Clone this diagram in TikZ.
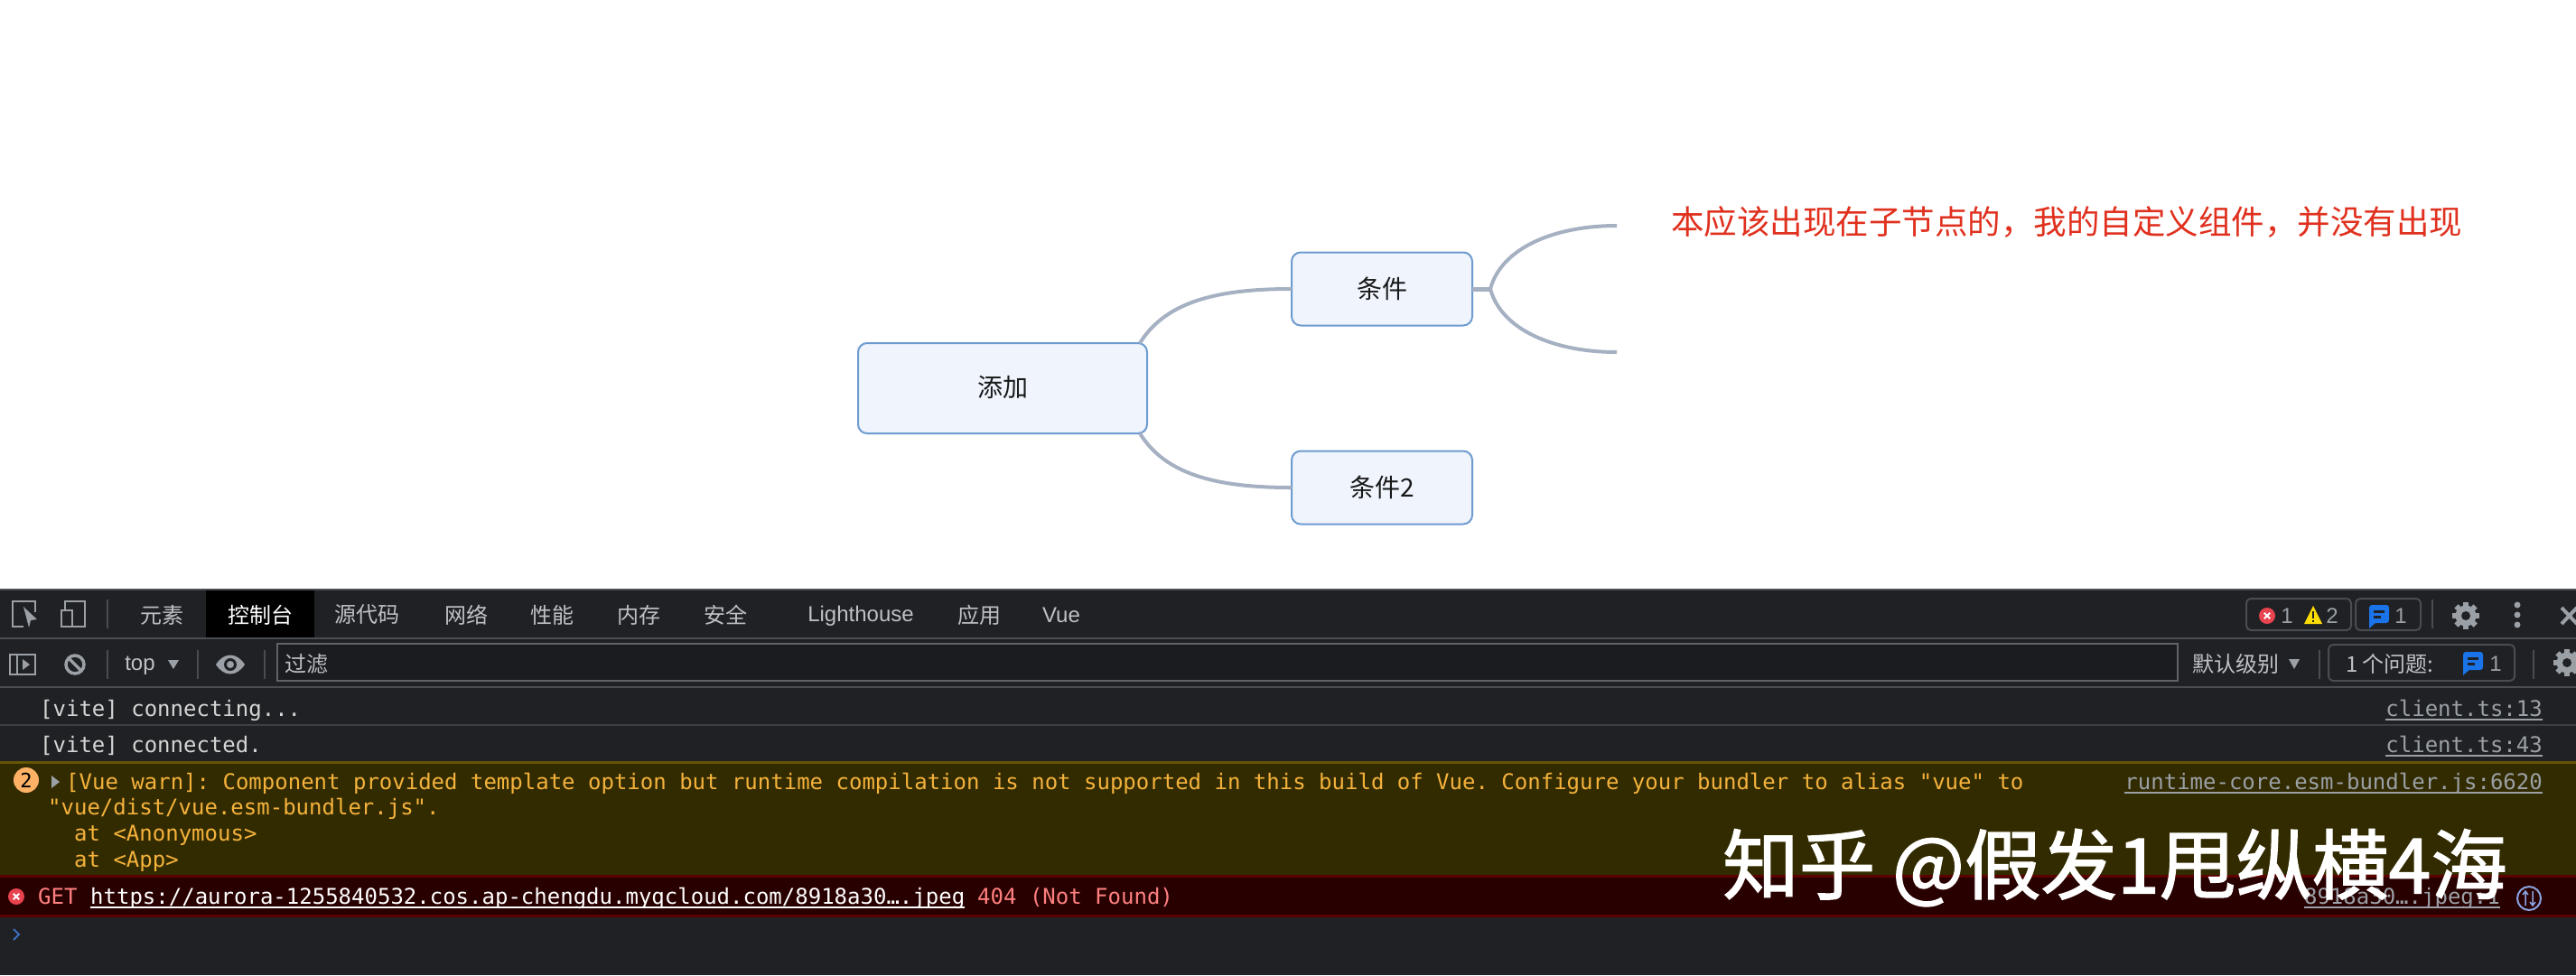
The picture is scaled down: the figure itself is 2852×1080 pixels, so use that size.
\documentclass[tikz,border=0pt]{standalone}
\usepackage{fontspec}
\usetikzlibrary{calc}
\setmainfont{Liberation Sans}
\newfontfamily\cjk{Noto Sans CJK SC}
\newfontfamily\cjkb[FakeBold=1.6]{Noto Sans CJK SC}
\newfontfamily\mono{DejaVu Sans Mono}
\frenchspacing
\definecolor{panelbg}{HTML}{202124}
\definecolor{seam}{HTML}{494C50}
\definecolor{boxline}{HTML}{5F6368}
\definecolor{boxfill}{HTML}{1B1C1F}
\definecolor{tabgrey}{HTML}{BDC1C6}
\definecolor{icongrey}{HTML}{9AA0A6}
\definecolor{logtext}{HTML}{D5D5D5}
\definecolor{warnbg}{HTML}{332B00}
\definecolor{warnline}{HTML}{665500}
\definecolor{warntext}{HTML}{F4B23C}
\definecolor{errbg}{HTML}{290000}
\definecolor{errline}{HTML}{5C0000}
\definecolor{errtext}{HTML}{FF8080}
\definecolor{errdot}{HTML}{E8434E}
\definecolor{roundblue}{HTML}{8AA4E0}
\definecolor{promptblue}{HTML}{3B6FC0}
\definecolor{nodefill}{HTML}{EFF4FD}
\definecolor{nodeline}{HTML}{6E9BD0}
\definecolor{branch}{HTML}{A5B1C2}
\definecolor{noteRed}{HTML}{E0301E}
\definecolor{msgblue}{HTML}{1A73E8}
\newcommand\ulink[1]{\setbox0\hbox{#1}\rlap{\rule[-5pt]{\wd0}{2pt}}\box0 }
\newcommand\upa[1]{\raisebox{3.5pt}{#1}}
\newcommand\fwcomma{\char"FF0C\relax}
\tikzset{
  x=1pt,y=-1pt,
  mapnode/.style={draw=nodeline,line width=2pt,fill=nodefill,rounded corners=10pt,inner sep=0pt,outer sep=0pt,
    text=black!90,font=\cjk\fontsize{28}{32}\selectfont},
  branchline/.style={draw=branch,line width=4pt},
  tabtext/.style={inner sep=0pt,text=tabgrey,font=\cjk\fontsize{24}{28}\selectfont},
  tablatin/.style={inner sep=0pt,text=tabgrey,font=\fontsize{24}{28}\selectfont},
  monotext/.style={inner sep=0pt,anchor=base west,font=\mono\fontsize{24}{28}\selectfont},
  monoright/.style={inner sep=0pt,anchor=base east,text=icongrey,font=\mono\fontsize{24}{28}\selectfont},
  sep/.style={draw=seam,line width=2pt},
  badge/.style={draw=seam,line width=2pt,rounded corners=5pt},
  gearpic/.pic={
    \foreach \a in {0,45,...,315}{\draw[icongrey,line width=6pt] (\a:7) -- (\a:15);}
    \fill[icongrey] (0,0) circle (11.5);
    \fill[panelbg] (0,0) circle (5);
  },
  msgpic/.pic={
    \fill[msgblue,rounded corners=3pt] (-11,-12) rectangle (11,8);
    \fill[msgblue] (-11,4) -- (-11,14) -- (-2,6) -- cycle;
    \fill[panelbg] (-6,-6) rectangle (6,-3.5);
    \fill[panelbg] (-6,0) rectangle (2,2.5);
  },
  errpic/.pic={
    \fill[errdot] (0,0) circle (9);
    \draw[white,line width=2pt] (-3.2,-3.2) -- (3.2,3.2) (-3.2,3.2) -- (3.2,-3.2);
  },
}
\begin{document}
\begin{tikzpicture}
\useasboundingbox (0,0) rectangle (2852,1080);
\clip (0,0) rectangle (2852,1080);
\fill[white] (0,0) rectangle (2852,652);

% mind map
\node[mapnode,minimum width=320pt,minimum height=100pt] (root) at (1110,430) {\upa{添加}};
\node[mapnode,minimum width=200pt,minimum height=81pt] (cond) at (1530,320) {\upa{条件}};
\node[mapnode,minimum width=200pt,minimum height=81pt] (condb) at (1530,540) {\upa{条件2}};
\coordinate (rootup) at ($(root.north east)+(-8,0)$);
\coordinate (rootdown) at ($(root.south east)+(-8,0)$);
\coordinate (fork) at ($(cond.east)+(20,0)$);
\coordinate (leafa) at (1790,250);
\coordinate (leafb) at (1790,390);
\draw[branchline] (rootup) .. controls (1290,335) and (1345,320) .. (cond.west);
\draw[branchline] (rootdown) .. controls (1290,525) and (1345,540) .. (condb.west);
\draw[branchline,line width=5pt] (cond.east) -- (fork);
\draw[branchline] (fork) .. controls (1662,275) and (1720,250) .. (leafa);
\draw[branchline] (fork) .. controls (1662,365) and (1720,390) .. (leafb);
\node[inner sep=0pt,anchor=west,text=noteRed,font=\cjk\fontsize{36.5}{40}\selectfont] (note) at (1850,246) {本应该出现在子节点的\fwcomma 我的自定义组件\fwcomma 并没有出现};

% devtools panel
\fill[panelbg] (0,652) rectangle (2852,1080);
\fill[seam] (0,652) rectangle (2852,654);
\fill[black] (228,654) rectangle (348,706);
\fill[seam] (0,706) rectangle (2852,708);
\fill[seam] (0,760) rectangle (2852,762);
\fill[seam!70!panelbg] (0,802) rectangle (2852,804);
\fill[warnbg] (0,844) rectangle (2852,970);
\fill[warnline] (0,843) rectangle (2852,846);
\fill[errbg] (0,970) rectangle (2852,1015);
\fill[errline] (0,969) rectangle (2852,972);
\fill[errline] (0,1013) rectangle (2852,1016);

% tab bar icons
\draw[icongrey,line width=2pt] (26,694) -- (14,694) -- (14,666) -- (39,666) -- (39,678);
\fill[icongrey] (26,672) -- (41,686) -- (34,687) -- (32,695) -- cycle;
\draw[icongrey,line width=2pt] (72,676) -- (72,666) -- (94,666) -- (94,694) -- (68,694) -- (68,676) -- (80,676) -- (80,694);
\draw[sep] (119,664) -- (119,696);

\node[tabtext] (t1) at (179,681) {元素};
\node[tabtext,text=white] (t2) at (288,681) {控制台};
\node[tabtext] (t3) at (406,681) {源代码};
\node[tabtext] (t4) at (516,681) {网络};
\node[tabtext] (t5) at (611,681) {性能};
\node[tabtext] (t6) at (707,681) {内存};
\node[tabtext] (t7) at (803,681) {安全};
\node[tablatin] (t8) at (953,682) {Lighthouse};
\node[tabtext] (t9) at (1084,681) {应用};
\node[tablatin] (t10) at (1175,681) {Vue};

% issue badges
\draw[badge] (2487,663) rectangle (2603,698);
\draw[badge] (2608,663) rectangle (2680,698);
\pic at (2510,682) {errpic};
\node[tablatin,text=icongrey] (n1) at (2532,682) {1};
\fill[yellow!80!orange] (2561,671) -- (2571,691) -- (2551,691) -- cycle;
\fill[panelbg] (2560,677) rectangle (2562,685);
\fill[panelbg] (2560,687) rectangle (2562,689);
\node[tablatin,text=icongrey] (n2) at (2582,682) {2};
\pic at (2634,682) {msgpic};
\node[tablatin,text=icongrey] (n3) at (2658,682) {1};
\draw[sep] (2693,664) -- (2693,696);
\pic at (2730,682) {gearpic};
\fill[icongrey] (2787,670) circle (3.5) (2787,681) circle (3.5) (2787,692) circle (3.5);
\draw[icongrey,line width=4pt] (2836,673) -- (2853,691) (2836,691) -- (2853,673);

% filter bar
\draw[icongrey,line width=2pt] (11,725) rectangle (39,747);
\draw[icongrey,line width=2pt] (19,725) -- (19,747);
\fill[icongrey] (25,730) -- (33,736) -- (25,742) -- cycle;
\draw[icongrey,line width=3.5pt] (83,736) circle (10);
\draw[icongrey,line width=3.5pt] (76,729) -- (90,743);
\draw[sep] (119,720) -- (119,752);
\node[tablatin] (topl) at (155,737) {top};
\fill[icongrey] (186,731) -- (198,731) -- (192,741) -- cycle;
\draw[sep] (219,720) -- (219,752);
\fill[icongrey] (239,736) .. controls (248,722) and (262,722) .. (271,736) .. controls (262,750) and (248,750) .. cycle;
\fill[panelbg] (255,736) circle (7);
\fill[icongrey] (255,736) circle (4);
\draw[sep] (293,720) -- (293,752);
\draw[draw=boxline,line width=2pt,fill=boxfill] (307,713) rectangle (2411,754);
\node[tabtext,anchor=west,text=tabgrey] (flt) at (315,735) {过滤};
\node[tabtext] (lvl) at (2475,735) {默认级别};
\fill[icongrey] (2534,730) -- (2546,730) -- (2540,741) -- cycle;
\draw[sep] (2568,720) -- (2568,752);
\draw[badge] (2578,714) rectangle (2784,754);
\node[tabtext,anchor=west] (iss) at (2597,735) {1 个问题:};
\pic at (2738,734) {msgpic};
\node[tablatin,text=icongrey] (n4) at (2763,735) {1};
\draw[sep] (2805,720) -- (2805,752);
\pic at (2842,734) {gearpic};

% log lines
\node[monotext,text=logtext] (l1) at (44,793) {[vite] connecting...};
\node[monoright] (s1) at (2815,793) {\ulink{client.ts:13}};
\node[monotext,text=logtext] (l2) at (44,833) {[vite] connected.};
\node[monoright] (s2) at (2815,833) {\ulink{client.ts:43}};

% warning
\fill[orange!60!white] (29,864) circle (14);
\node[inner sep=0pt,text=black,font=\mono\fontsize{22}{26}\selectfont] (wn) at (29,864) {2};
\fill[icongrey] (57,859) -- (66,866) -- (57,873) -- cycle;
\node[monotext,text=warntext] (w1) at (73,874) {[Vue warn]: Component provided template option but runtime compilation is not supported in this build of Vue. Configure your bundler to alias "vue" to};
\node[monoright] (s3) at (2815,874) {\ulink{runtime-core.esm-bundler.js:6620}};
\node[monotext,text=warntext] (w2) at (53,902) {"vue/dist/vue.esm-bundler.js".};
\node[monotext,text=warntext] (w3) at (82,931) {at <Anonymous>};
\node[monotext,text=warntext] (w4) at (82,960) {at <App>};

% error
\pic at (18,993) {errpic};
\node[monotext,text=errtext] (e1) at (42,1001) {GET};
\node[monotext,text=white] (e2) at (100,1001) {\ulink{https://aurora-1255840532.cos.ap-chengdu.myqcloud.com/8918a30….jpeg}};
\node[monotext,text=errtext] (e3) at (1082,1001) {404 (Not Found)};
\node[monoright] (s4) at (2768,1001) {\ulink{8918a30….jpeg:1}};
\draw[roundblue,line width=2pt] (2800,995) circle (13);
\draw[roundblue,line width=1.5pt] (2796,1003) -- (2796,987) (2793,991) -- (2796,987) -- (2799,991);
\draw[roundblue,line width=1.5pt] (2804,987) -- (2804,1003) (2801,999) -- (2804,1003) -- (2807,999);

% prompt
\draw[promptblue,line width=2pt] (15,1029) -- (21,1035) -- (15,1041);

% watermark
\node[inner sep=0pt,anchor=west,text=white,font=\cjkb\fontsize{84.5}{92}\selectfont] (wm) at (1907,961) {知乎 @假发1甩纵横4海};
\end{tikzpicture}
\end{document}
